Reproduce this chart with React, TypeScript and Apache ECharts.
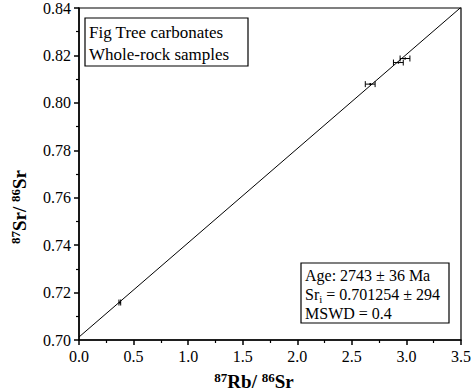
import React, { useEffect, useRef } from "react";
import * as echarts from "echarts";

const xTicks = { min: 0, max: 3.5, interval: 0.5 };
const yTicks = { min: 0.7, max: 0.84, interval: 0.02 };

const sampleX = [0.374, 2.668, 2.926, 2.987];
const sampleY = [0.7158, 0.8079, 0.817, 0.8187];
const sampleXErr = [0.008, 0.045, 0.045, 0.045];

const isochronX = [0, 3.5];
const isochronY = [0.701254, 0.8403];

const legendLines1 = ["Fig Tree carbonates", "Whole-rock samples"];
const ageLine = "Age: 2743 ± 36 Ma";
const srLine = ["Sr", "i", " = 0.701254 ± 294"];
const mswdLine = "MSWD = 0.4";

const FONT = "Liberation Serif";

export default function App() {
  const ref = useRef<HTMLDivElement>(null);
  useEffect(() => {
    if (!ref.current) return;
    const chart = echarts.init(ref.current, null, { renderer: "svg" });
    const errData = sampleX.map((x, i) => [x, sampleY[i], sampleXErr[i]]);
    const supRich = {
      b: { fontFamily: FONT, fontSize: 19, fontWeight: "bold", color: "#000", lineHeight: 20, verticalAlign: "bottom" },
      s: { fontFamily: FONT, fontSize: 13, fontWeight: "bold", color: "#000", lineHeight: 20, verticalAlign: "top" },
    };
    const tickRich = { t: { fontFamily: FONT, fontSize: 16, color: "#000" } };
    chart.setOption({
      animation: false,
      backgroundColor: "#fff",
      textStyle: { fontFamily: FONT },
      grid: { left: 79, top: 7, right: 11, bottom: 52, show: true, borderColor: "#000", borderWidth: 1.2, backgroundColor: "transparent" },
      xAxis: {
        type: "value",
        min: xTicks.min,
        max: xTicks.max,
        interval: xTicks.interval,
        axisLine: { show: true, onZero: false, lineStyle: { color: "#000", width: 1.5 } },
        axisTick: { show: true, inside: false, length: 5, lineStyle: { color: "#000", width: 1.5 } },
        minorTick: { show: true, splitNumber: 2, length: 3, lineStyle: { color: "#000", width: 1.2 } },
        splitLine: { show: false },
        axisLabel: { color: "#000", fontFamily: FONT, fontSize: 16, margin: 8, rich: tickRich, formatter: (v: number) => `{t|${v.toFixed(1)}}` },
      },
      yAxis: {
        type: "value",
        min: yTicks.min,
        max: yTicks.max,
        interval: yTicks.interval,
        axisLine: { show: true, onZero: false, lineStyle: { color: "#000", width: 1.5 } },
        axisTick: { show: true, inside: false, length: 5, lineStyle: { color: "#000", width: 1.5 } },
        minorTick: { show: true, splitNumber: 2, length: 3, lineStyle: { color: "#000", width: 1.2 } },
        splitLine: { show: false },
        axisLabel: { color: "#000", fontFamily: FONT, fontSize: 16, margin: 8, rich: tickRich, formatter: (v: number) => `{t|${v.toFixed(2)}}` },
      },
      series: [
        {
          type: "line",
          data: isochronX.map((x, i) => [x, isochronY[i]]),
          symbol: "none",
          clip: true,
          lineStyle: { color: "#000", width: 1 },
          z: 2,
        },
        {
          type: "custom",
          data: errData,
          clip: true,
          z: 3,
          renderItem: (params: any, api: any) => {
            const x = api.value(0);
            const y = api.value(1);
            const e = api.value(2);
            const p1 = api.coord([x - e, y]);
            const p2 = api.coord([x + e, y]);
            const c = api.coord([x, y]);
            const cap = 3;
            const st = { stroke: "#000", lineWidth: 1 };
            return {
              type: "group",
              children: [
                { type: "line", shape: { x1: p1[0], y1: p1[1], x2: p2[0], y2: p2[1] }, style: st },
                { type: "line", shape: { x1: p1[0], y1: p1[1] - cap, x2: p1[0], y2: p1[1] + cap }, style: st },
                { type: "line", shape: { x1: p2[0], y1: p2[1] - cap, x2: p2[0], y2: p2[1] + cap }, style: st },
                { type: "circle", shape: { cx: c[0], cy: c[1], r: 1 }, style: { fill: "#000" } },
              ],
            };
          },
        },
      ],
      graphic: [
        {
          type: "rect",
          shape: { x: 85, y: 18, width: 163, height: 48 },
          style: { fill: "#fff", stroke: "#000", lineWidth: 1.2 },
          z: 10,
        },
        {
          type: "text",
          x: 89,
          y: 21,
          z: 11,
          style: { text: legendLines1.join("\n"), fontFamily: FONT, fontSize: 17, lineHeight: 22, fill: "#000" },
        },
        {
          type: "rect",
          shape: { x: 301, y: 263, width: 148, height: 60 },
          style: { fill: "#fff", stroke: "#000", lineWidth: 1.2 },
          z: 10,
        },
        {
          type: "text",
          x: 305,
          y: 266,
          z: 11,
          style: {
            text: `{n|${ageLine}}\n{n|${srLine[0]}}{sub|${srLine[1]}}{n|${srLine[2]}}\n{n|${mswdLine}}`,
            rich: {
              n: { fontFamily: FONT, fontSize: 16, lineHeight: 19, color: "#000" },
              sub: { fontFamily: FONT, fontSize: 11, lineHeight: 19, color: "#000", verticalAlign: "bottom", padding: [4, 0, 0, 0] },
            },
          },
        },
        {
          type: "text",
          x: 254,
          y: 381,
          z: 11,
          style: {
            text: "{s|87}{b|Rb/ }{s|86}{b|Sr}",
            rich: supRich,
            align: "center",
            verticalAlign: "middle",
          },
        },
        {
          type: "text",
          x: 19,
          y: 207,
          rotation: Math.PI / 2,
          z: 11,
          style: {
            text: "{s|87}{b|Sr/ }{s|86}{b|Sr}",
            rich: supRich,
            align: "center",
            verticalAlign: "middle",
          },
        },
      ],
    });
    return () => chart.dispose();
  }, []);
  return <div ref={ref} style={{ width: 474, height: 392, position: "absolute", left: 0, top: 0 }} />;
}
